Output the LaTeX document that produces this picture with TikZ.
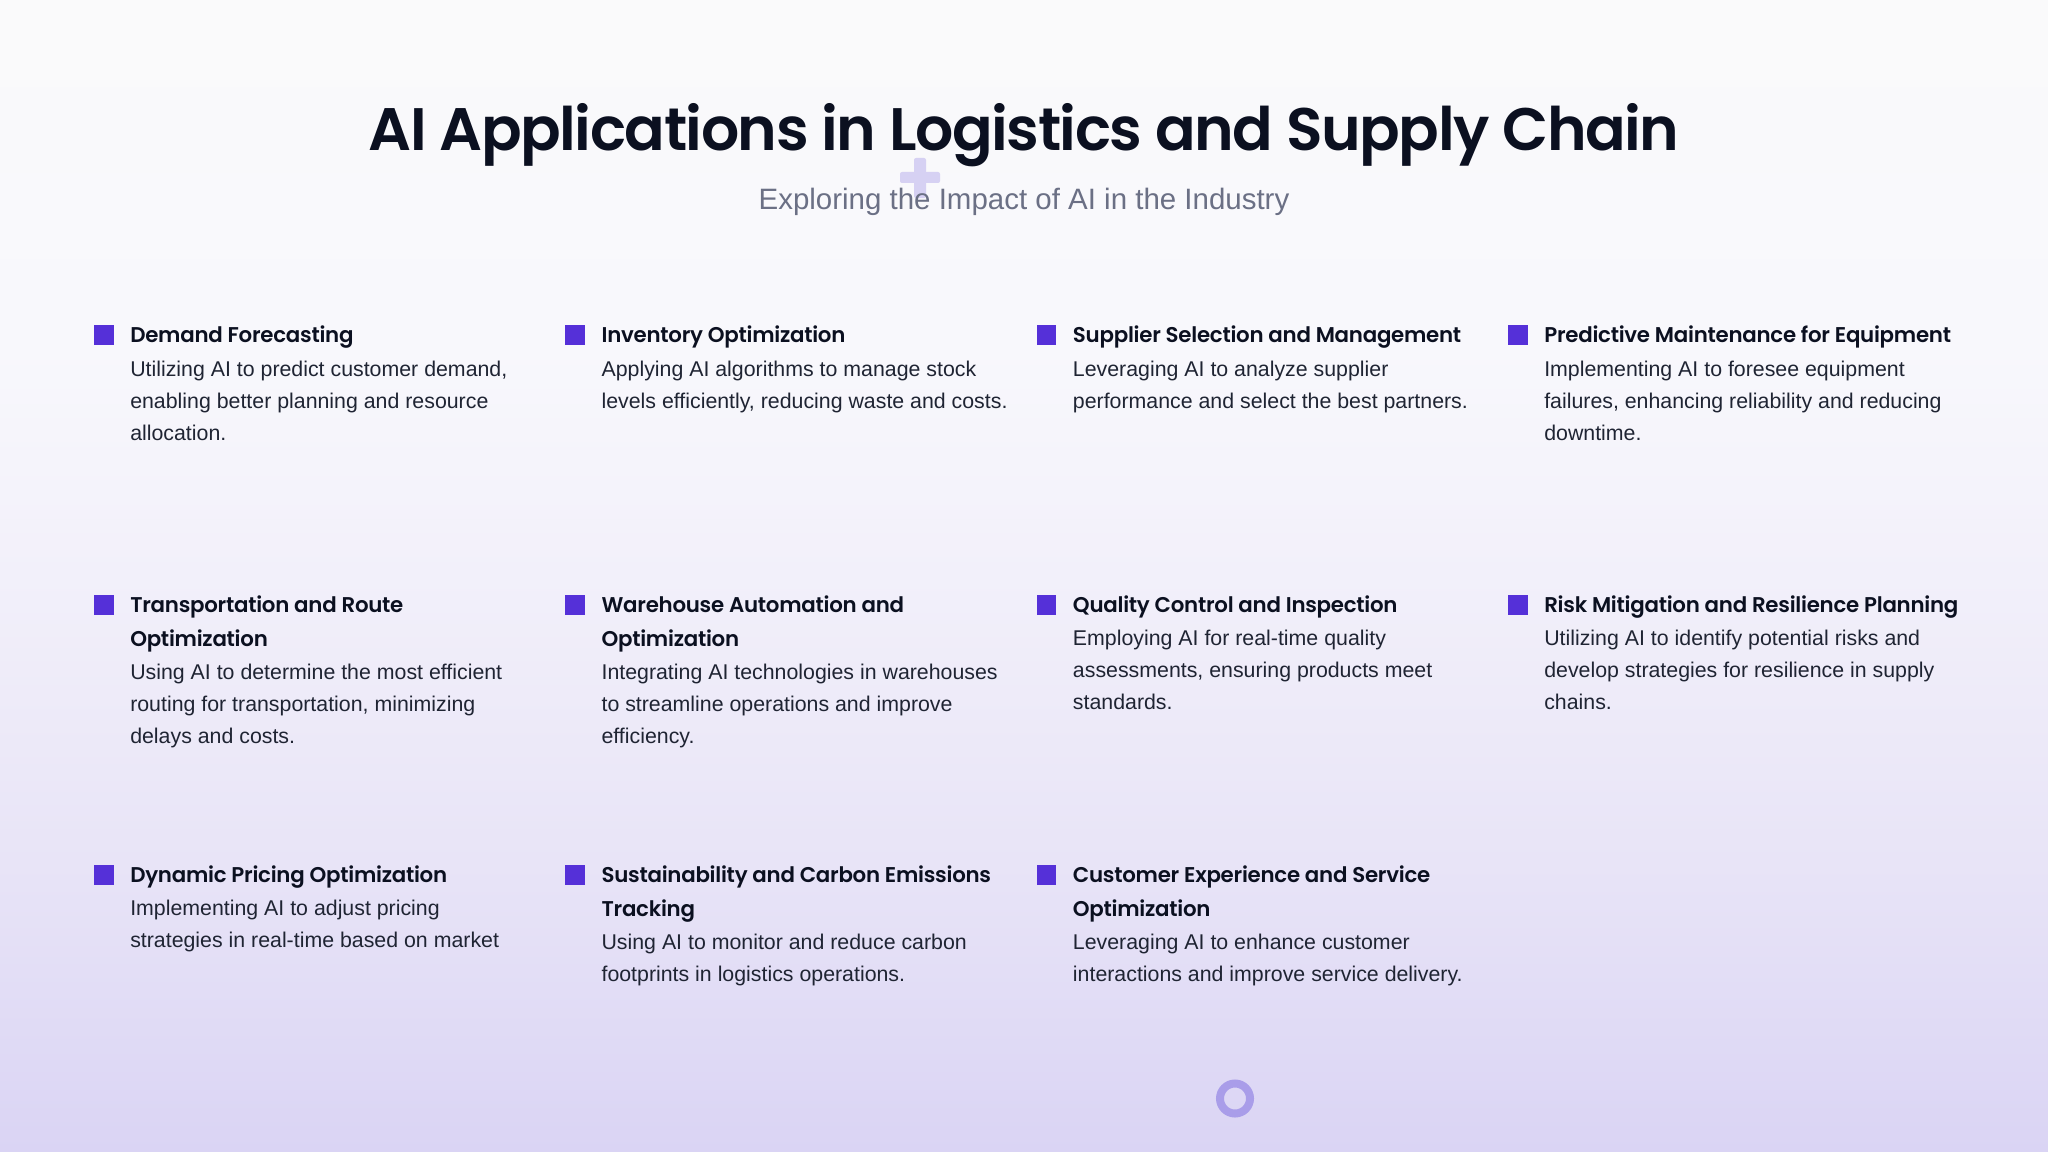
\documentclass[tikz,border=0pt]{standalone}
\usepackage{fontspec}
\setmainfont{Liberation Sans}
\newfontfamily\poptitle[LetterSpace=-2.4]{Poppins SemiBold}
\newfontfamily\pophead[LetterSpace=-1.2]{Poppins SemiBold}
\newfontfamily\bodyf{Liberation Sans}
\definecolor{ink}{HTML}{0B1020}
\definecolor{bodyc}{HTML}{1F2433}
\definecolor{subc}{HTML}{6B7085}
\definecolor{sq}{HTML}{5530D8}
\definecolor{plusc}{HTML}{D6D1F3}
\definecolor{ringc}{HTML}{A99DE9}
\definecolor{bgA}{HTML}{FAFAFB}
\definecolor{bgAB}{HTML}{F8F8FC}
\definecolor{bgB}{HTML}{F2F0FA}
\definecolor{bgBC}{HTML}{E8E4F7}
\definecolor{bgC}{HTML}{DAD4F4}
\pgfdeclareverticalshading{bgshade}{100bp}{
 color(0bp)=(bgC); color(25bp)=(bgC); color(37.5bp)=(bgBC); color(50bp)=(bgB); color(60bp)=(bgAB); color(75bp)=(bgA); color(100bp)=(bgA)}
\tikzset{
 x=0.75pt,y=-0.75pt,
 titlet/.style={anchor=base,inner sep=0pt,text=ink,font=\poptitle\fontsize{45}{50}\selectfont},
 subt/.style={anchor=base,inner sep=0pt,text=subc,font=\bodyf\fontsize{22.1}{28}\selectfont},
 head/.style={anchor=base west,inner sep=0pt,text=ink,font=\pophead\fontsize{16}{20}\selectfont},
 bodyt/.style={anchor=base west,inner sep=0pt,text=bodyc,font=\bodyf\fontsize{16}{20}\selectfont},
 bullet/.style={anchor=north west,inner sep=0pt,minimum size=14.5pt,fill=sq},
}
% #1 name, #2 x of bullet, #3 y of first baseline
\newcommand{\bul}[3]{\node[bullet] (#1) at (#2,#3-17) {};}
\newcommand{\hl}[4]{\node[head] (#1) at (#2+36,#3) {#4};}
\newcommand{\bl}[4]{\node[bodyt] (#1) at (#2+36,#3-1) {#4};}
\begin{document}
\begin{tikzpicture}
\useasboundingbox (0,0) rectangle (2048,1152);
\shade[shading=bgshade] (0,0) rectangle (2048,1152);
\fill[plusc,rounded corners=1.5pt] (900,172) rectangle (940,183);
\fill[plusc,rounded corners=1.5pt] (914,158) rectangle (926,198);
\node[titlet] (title) at (1024,151) {AI Applications in Logistics and Supply Chain};
\node[subt] (sub) at (1024,209.5) {Exploring the Impact of AI in the Industry};
\draw[ringc,line width=6pt] (1235,1098.5) circle[radius=15];
% row 1
\bul{b1}{94}{342}\hl{h1}{94}{342}{Demand Forecasting}
\bl{t1a}{94}{377}{Utilizing AI to predict customer demand,}
\bl{t1b}{94}{409}{enabling better planning and resource}
\bl{t1c}{94}{441}{allocation.}
\bul{b2}{565}{342}\hl{h2}{565.3}{342}{Inventory Optimization}
\bl{t2a}{565.3}{377}{Applying AI algorithms to manage stock}
\bl{t2b}{565.3}{409}{levels efficiently, reducing waste and costs.}
\bul{b3}{1036.7}{342}\hl{h3}{1036.7}{342}{Supplier Selection and Management}
\bl{t3a}{1036.7}{377}{Leveraging AI to analyze supplier}
\bl{t3b}{1036.7}{409}{performance and select the best partners.}
\bul{b4}{1508}{342}\hl{h4}{1508}{342}{Predictive Maintenance for Equipment}
\bl{t4a}{1508}{377}{Implementing AI to foresee equipment}
\bl{t4b}{1508}{409}{failures, enhancing reliability and reducing}
\bl{t4c}{1508}{441}{downtime.}
% row 2
\bul{b5}{94}{612}\hl{h5}{94}{612}{Transportation and Route}
\hl{h5b}{94}{646}{Optimization}
\bl{t5a}{94}{680}{Using AI to determine the most efficient}
\bl{t5b}{94}{712}{routing for transportation, minimizing}
\bl{t5c}{94}{744}{delays and costs.}
\bul{b6}{565}{612}\hl{h6}{565.3}{612}{Warehouse Automation and}
\hl{h6b}{565.3}{646}{Optimization}
\bl{t6a}{565.3}{680}{Integrating AI technologies in warehouses}
\bl{t6b}{565.3}{712}{to streamline operations and improve}
\bl{t6c}{565.3}{744}{efficiency.}
\bul{b7}{1036.7}{612}\hl{h7}{1036.7}{612}{Quality Control and Inspection}
\bl{t7a}{1036.7}{646}{Employing AI for real-time quality}
\bl{t7b}{1036.7}{678}{assessments, ensuring products meet}
\bl{t7c}{1036.7}{710}{standards.}
\bul{b8}{1508}{612}\hl{h8}{1508}{612}{Risk Mitigation and Resilience Planning}
\bl{t8a}{1508}{646}{Utilizing AI to identify potential risks and}
\bl{t8b}{1508}{678}{develop strategies for resilience in supply}
\bl{t8c}{1508}{710}{chains.}
% row 3
\bul{b9}{94}{882}\hl{h9}{94}{882}{Dynamic Pricing Optimization}
\bl{t9a}{94}{916}{Implementing AI to adjust pricing}
\bl{t9b}{94}{948}{strategies in real-time based on market}
\bul{b10}{565}{882}\hl{h10}{565.3}{882}{Sustainability and Carbon Emissions}
\hl{h10b}{565.3}{916}{Tracking}
\bl{t10a}{565.3}{950}{Using AI to monitor and reduce carbon}
\bl{t10b}{565.3}{982}{footprints in logistics operations.}
\bul{b11}{1036.7}{882}\hl{h11}{1036.7}{882}{Customer Experience and Service}
\hl{h11b}{1036.7}{916}{Optimization}
\bl{t11a}{1036.7}{950}{Leveraging AI to enhance customer}
\bl{t11b}{1036.7}{982}{interactions and improve service delivery.}
\end{tikzpicture}
\end{document}
